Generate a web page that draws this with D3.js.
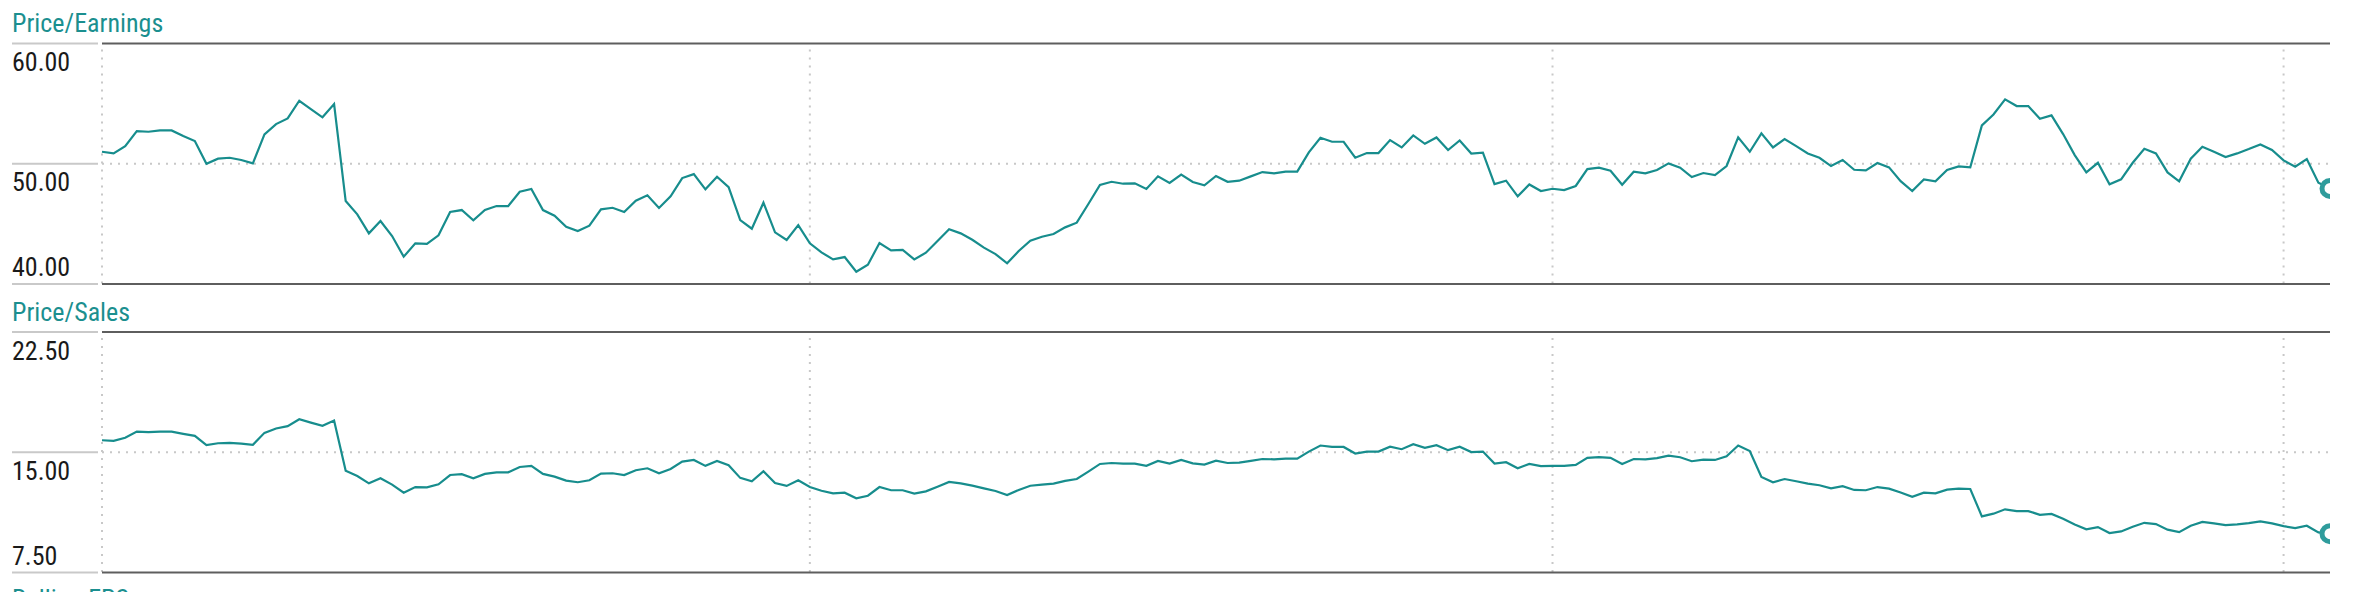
<!DOCTYPE html>
<html>
<head>
<meta charset="utf-8">
<script src="https://cdn.jsdelivr.net/npm/d3@7"></script>
<style>
  html, body { margin: 0; padding: 0; background: #fff; overflow: hidden; }
  svg { display: block; font-family: "Liberation Sans Narrow", "Roboto Condensed", "DejaVu Sans Condensed", "Liberation Sans", sans-serif; }
  .panel-title { fill: #1b8f8f; font-size: 26px; }
  .tick-label { fill: #1a1a1a; font-size: 26px; }
</style>
</head>
<body>
<svg id="chart"></svg>
<script>
// values, one point per period
const peValues = [
  51.0, 50.86, 51.47, 52.72, 52.66, 52.77, 52.77, 52.3, 51.89, 50.0,
  50.42, 50.5, 50.31, 50.03, 52.44, 53.3, 53.77, 55.24, 54.55, 53.86,
  54.96, 46.9, 45.79, 44.21, 45.24, 43.99, 42.27, 43.38, 43.33, 44.05,
  45.99, 46.15, 45.29, 46.15, 46.48, 46.48, 47.67, 47.9, 46.15, 45.68,
  44.76, 44.4, 44.85, 46.21, 46.34, 45.99, 46.92, 47.37, 46.32, 47.29,
  48.81, 49.14, 47.87, 48.92, 48.06, 45.32, 44.6, 46.76, 44.3, 43.66,
  44.9, 43.38, 42.63, 42.05, 42.24, 41.02, 41.6, 43.41, 42.8, 42.83,
  42.05, 42.6, 43.57, 44.55, 44.21, 43.68, 43.02, 42.49, 41.72, 42.74,
  43.6, 43.93, 44.16, 44.71, 45.1, 46.65, 48.23, 48.5, 48.34, 48.37,
  47.9, 48.95, 48.4, 49.09, 48.48, 48.2, 48.98, 48.5, 48.59, 48.95,
  49.31, 49.2, 49.34, 49.34, 50.95, 52.16, 51.83, 51.83, 50.5, 50.89,
  50.89, 51.97, 51.36, 52.36, 51.66, 52.19, 51.14, 51.94, 50.85, 50.92,
  48.31, 48.59, 47.29, 48.28, 47.73, 47.92, 47.81, 48.15, 49.56, 49.67,
  49.42, 48.25, 49.34, 49.2, 49.48, 50.03, 49.67, 48.89, 49.23, 49.06,
  49.81, 52.19, 51.0, 52.53, 51.36, 52.05, 51.47, 50.86, 50.5, 49.81,
  50.31, 49.5, 49.45, 50.06, 49.7, 48.55, 47.73, 48.7, 48.54, 49.48,
  49.78, 49.7, 53.19, 54.1, 55.35, 54.8, 54.8, 53.74, 54.02, 52.47,
  50.72, 49.28, 50.08, 48.29, 48.7, 50.08, 51.25, 50.86, 49.28, 48.54,
  50.42, 51.41, 51.0, 50.56, 50.86, 51.22, 51.61, 51.14, 50.28, 49.75,
  50.39, 48.42, 47.95
];

const psValues = [
  15.75, 15.71, 15.9, 16.29, 16.25, 16.29, 16.29, 16.15, 16.02, 15.44,
  15.56, 15.58, 15.54, 15.46, 16.21, 16.48, 16.63, 17.06, 16.85, 16.65,
  16.98, 13.85, 13.52, 13.06, 13.38, 12.98, 12.48, 12.83, 12.81, 13.0,
  13.58, 13.63, 13.38, 13.65, 13.75, 13.75, 14.08, 14.15, 13.65, 13.48,
  13.23, 13.13, 13.25, 13.67, 13.69, 13.58, 13.88, 14.0, 13.69, 13.96,
  14.42, 14.52, 14.15, 14.46, 14.19, 13.4, 13.19, 13.81, 13.08, 12.9,
  13.25, 12.83, 12.6, 12.44, 12.48, 12.13, 12.29, 12.83, 12.63, 12.63,
  12.42, 12.56, 12.85, 13.15, 13.06, 12.92, 12.75, 12.58, 12.33, 12.65,
  12.91, 12.98, 13.04, 13.21, 13.33, 13.79, 14.27, 14.33, 14.29, 14.29,
  14.15, 14.46, 14.29, 14.52, 14.31, 14.23, 14.48, 14.33, 14.35, 14.46,
  14.58, 14.56, 14.6, 14.6, 15.04, 15.42, 15.33, 15.33, 14.92, 15.04,
  15.04, 15.35, 15.19, 15.5, 15.27, 15.44, 15.13, 15.35, 15.01, 15.04,
  14.29, 14.38, 14.0, 14.27, 14.13, 14.15, 14.15, 14.21, 14.65, 14.69,
  14.65, 14.27, 14.58, 14.56, 14.63, 14.79, 14.69, 14.44, 14.54, 14.52,
  14.75, 15.42, 15.08, 13.46, 13.13, 13.33, 13.19, 13.04, 12.94, 12.75,
  12.88, 12.65, 12.63, 12.83, 12.73, 12.49, 12.22, 12.48, 12.44, 12.67,
  12.73, 12.71, 11.0, 11.17, 11.44, 11.33, 11.33, 11.1, 11.15, 10.85,
  10.5, 10.19, 10.33, 9.96, 10.06, 10.35, 10.6, 10.52, 10.17, 10.02,
  10.42, 10.65, 10.56, 10.46, 10.5, 10.58, 10.69, 10.56, 10.39, 10.27,
  10.42, 10.0, 9.92
];

const peTicks = [40, 50, 60];
const psTicks = [7.5, 15, 22.5];
// point index where each year starts (dotted verticals)
const yearStarts = [0, 61, 125, 188];
const titles = ['Price/Earnings', 'Price/Sales', 'Rolling EPS'];

const W = 2358, H = 592;
const TEAL = '#178d8d';
const left = 102, right = 2330, labelX = 12, stubEnd = 98;
const panelH = 240.5, panelStep = 288.5, firstTop = 43.5;

const svg = d3.select('#chart').attr('width', W).attr('height', H);

const x = d3.scaleLinear().domain([0, peValues.length - 1]).range([left, right]);
const fmt = d3.format('.2f');

const panels = [
  { title: titles[0], values: peValues, ticks: peTicks },
  { title: titles[1], values: psValues, ticks: psTicks }
];

panels.forEach((p, k) => {
  const top = firstTop + k * panelStep;
  const bottom = top + panelH;
  const [lo, mid, hi] = p.ticks;
  const y = d3.scaleLinear().domain([lo, hi]).range([bottom, top]);
  const g = svg.append('g');

  g.append('text').attr('class', 'panel-title')
    .attr('x', labelX).attr('y', top - 11.5).text(p.title);

  // short grey stubs next to the labels
  g.selectAll('line.stub').data(p.ticks).join('line')
    .attr('class', 'stub')
    .attr('x1', labelX).attr('x2', stubEnd)
    .attr('y1', d => y(d)).attr('y2', d => y(d))
    .attr('stroke', '#c9c9c9').attr('stroke-width', 2);

  g.selectAll('text.tick-label').data(p.ticks).join('text')
    .attr('class', 'tick-label')
    .attr('x', labelX)
    .attr('y', d => d === lo ? y(d) - 8 : y(d) + 27.5)
    .text(d => fmt(d));

  // dotted grid
  g.append('line')
    .attr('x1', left).attr('x2', right).attr('y1', y(mid)).attr('y2', y(mid))
    .attr('stroke', '#c8c8c8').attr('stroke-width', 2).attr('stroke-dasharray', '2,6');

  g.selectAll('line.vgrid').data(yearStarts).join('line')
    .attr('class', 'vgrid')
    .attr('x1', d => x(d)).attr('x2', d => x(d))
    .attr('y1', top + 6).attr('y2', bottom)
    .attr('stroke', '#c8c8c8').attr('stroke-width', 2).attr('stroke-dasharray', '2,6');

  // frame lines top and bottom
  g.selectAll('line.frame').data([hi, lo]).join('line')
    .attr('class', 'frame')
    .attr('x1', left).attr('x2', right)
    .attr('y1', d => y(d)).attr('y2', d => y(d))
    .attr('stroke', '#5e5e5e').attr('stroke-width', 2.2);

  const clipId = 'clip' + k;
  svg.append('clipPath').attr('id', clipId).append('rect')
    .attr('x', left - 10).attr('y', top - 20).attr('width', right - left + 10).attr('height', panelH + 40);

  const plot = g.append('g').attr('clip-path', `url(#${clipId})`);
  const line = d3.line().x((d, i) => x(i)).y(d => y(d));
  plot.append('path').datum(p.values)
    .attr('d', line)
    .attr('fill', 'none').attr('stroke', TEAL).attr('stroke-width', 2.2)
    .attr('stroke-linejoin', 'miter');

  const last = p.values.length - 1;
  plot.append('circle')
    .attr('cx', x(last)).attr('cy', y(p.values[last])).attr('r', 8)
    .attr('fill', '#fff').attr('stroke', '#2f9c9c').attr('stroke-width', 5);
});

svg.append('text').attr('class', 'panel-title')
  .attr('x', labelX).attr('y', firstTop + 2 * panelStep - 13).text(titles[2]);
</script>
</body>
</html>
